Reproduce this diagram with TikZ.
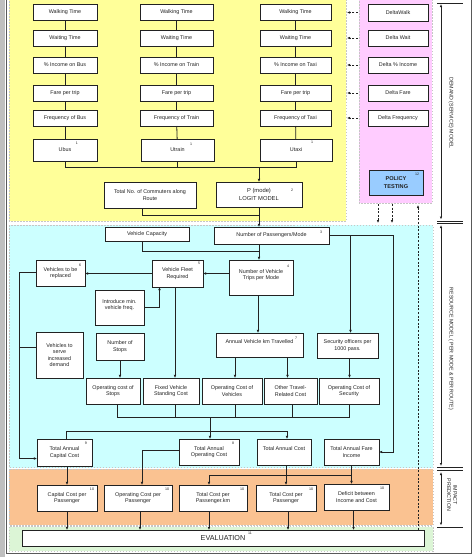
\documentclass[tikz,border=0pt]{standalone}
\usepackage{fontspec}
\setmainfont{Liberation Sans}
\usetikzlibrary{arrows.meta,calc}
\definecolor{yel}{HTML}{FFFF99}
\definecolor{pnk}{HTML}{FFCCFF}
\definecolor{cyn}{HTML}{CCFFFF}
\definecolor{orn}{HTML}{FAC291}
\definecolor{grn}{HTML}{DCF5D6}
\definecolor{pol}{HTML}{99CCFF}
\definecolor{ink}{HTML}{222222}
\tikzset{
 box/.style={draw=ink, line width=0.85pt, fill=white, inner sep=0.5pt, outer sep=0pt,
   font=\fontsize{5.4}{6.4}\selectfont, align=center, text=ink},
 conn/.style={draw=ink, line width=0.8pt},
 arr/.style={conn, -{Latex[length=3.2pt,width=2.8pt]}},
 darr/.style={draw=ink, line width=0.9pt, dash pattern=on 2pt off 1.6pt, -{Latex[length=3pt,width=2.6pt]}},
 dimarr/.style={draw=ink, line width=0.7pt, {Latex[length=3pt,width=2.4pt]}-{Latex[length=3pt,width=2.4pt]}},
 region/.style={draw=gray!45, line width=0.6pt, dash pattern=on 1.5pt off 1.5pt},
 supnum/.style={font=\fontsize{3.6}{4}\selectfont, inner sep=0pt, text=ink},
 sidelab/.style={rotate=-90, font=\fontsize{5.3}{6.3}\selectfont, align=center, inner sep=0pt, text=ink},
}
\newcommand\bx[7][]{\node[box,#1,minimum width={(#5-#3)*1pt},minimum height={(#6-#4)*1pt}] (#2) at ({(#3+#5)/2},{(#4+#6)/2}) {#7};}
\begin{document}
\begin{tikzpicture}[x=1pt,y=-1pt]
\useasboundingbox (0,0) rectangle (474,557);
% frame
\fill[gray!50] (0,-2) rectangle (4.5,557);
\draw[black!65, line width=0.8pt] (6,-2) -- (6,553) -- (471,553) -- (471,-2);
% regions
\fill[yel] (9,-2) rectangle (346,221); \draw[region] (9,-2) rectangle (346,221);
\fill[pnk] (359,-2) rectangle (432,203); \draw[region] (359,-2) rectangle (432,203);
\fill[cyn] (9,225) rectangle (433,467.5); \draw[region] (9,225) rectangle (433,467.5);
\fill[orn] (9,469) rectangle (433,525); \draw[region] (9,469) rectangle (433,525);
\fill[grn] (9,526.5) rectangle (433,551); \draw[region] (9,526.5) rectangle (433,551);
% demand model columns
\bx{b1}{33}{4}{97}{20}{Walking Time}
\bx{b2}{33}{30}{97}{46}{Waiting Time}
\bx{b3}{33}{57}{97}{73}{\% Income on Bus}
\bx{b4}{33}{85}{97}{101}{Fare per trip}
\bx{b5}{33}{110}{97}{126}{Frequency of Bus}
\bx{b6}{33}{139}{97}{161}{Ubus}
\bx{t1}{140}{4}{213}{20}{Walking Time}
\bx{t2}{140}{30}{213}{46}{Waiting Time}
\bx{t3}{140}{57}{213}{73}{\% Income on Train}
\bx{t4}{140}{85}{213}{101}{Fare per trip}
\bx{t5}{140}{110}{213}{126}{Frequency of Train}
\bx{t6}{141}{139}{214}{161}{Utrain}
\bx{x1}{260}{4}{331}{20}{Walking Time}
\bx{x2}{260}{30}{331}{46}{Waiting Time}
\bx{x3}{260}{57}{331}{73}{\% Income on Taxi}
\bx{x4}{260}{85}{331}{101}{Fare per trip}
\bx{x5}{260}{110}{331}{126}{Frequency of Taxi}
\bx{x6}{260}{139}{332}{161}{Utaxi}
% policy column
\bx{d1}{368}{4}{428}{21}{DeltaWalk}
\bx{d2}{368}{30}{428}{46}{Delta Wait}
\bx{d3}{368}{57}{428}{73}{Delta \% Income}
\bx{d4}{368}{85}{428}{101}{Delta Fare}
\bx{d5}{368}{110}{428}{126}{Delta Frequency}
\bx[fill=pol,font=\bfseries\fontsize{5.6}{7.4}\selectfont]{policy}{369}{170}{423}{195}{POLICY\\TESTING}
% logit
\bx{comm}{104}{182}{196}{208}{Total No. of Commuters along\\Route}
\bx[font=\fontsize{5.8}{7.2}\selectfont]{pmode}{216}{182}{302}{207}{P (mode)\\LOGIT MODEL}
% resource model
\bx{vcap}{105}{227}{189}{241}{Vehicle Capacity}
\bx{npass}{214}{227}{329}{244}{Number of Passengers/Mode}
\bx{vrep}{36}{260}{85}{286}{Vehicles to be\\replaced}
\bx{fleet}{152}{260}{203}{287}{Vehicle Fleet\\Required}
\bx{trips}{229}{260}{293}{295}{Number of Vehicle\\Trips per Mode\\\mbox{}}
\bx{minfreq}{95}{290}{144}{325}{Introduce min.\\vehicle freq.\\\mbox{}}
\bx{vserve}{36}{332}{83}{378}{Vehicles to\\serve\\increased\\demand}
\bx{nstops}{96}{333}{144}{360}{Number of\\Stops}
\bx{annkm}{216}{333}{303}{357}{Annual Vehicle km Travelled\\\mbox{}}
\bx{secoff}{317}{333}{378}{358}{Security officers per\\1000 pass.}
\bx{opstops}{86}{378}{140}{404}{Operating cost of\\Stops}
\bx{fixed}{143}{378}{199}{404}{Fixed Vehicle\\Standing Cost}
\bx{opveh}{202}{378}{262}{404}{Operating Cost of\\Vehicles}
\bx{other}{264}{378}{317}{404}{Other Travel-\\Related Cost}
\bx{opsec}{319}{378}{379}{404}{Operating Cost of\\Security}
\bx{capcost}{37}{439}{92}{466}{Total Annual\\Capital Cost}
\bx{opcost}{179}{439}{239}{465}{Total Annual\\Operating Cost}
\bx{totcost}{257}{439}{311}{465}{Total Annual Cost\\\mbox{}}
\bx{fare}{324}{439}{379}{465}{Total Annual Fare\\Income}
% impact
\bx{cpp}{37}{485}{97}{511}{Capital Cost per\\Passenger}
\bx{opp}{104}{485}{172}{511}{Operating Cost per\\Passenger}
\bx{tcpkm}{179}{485}{247}{511}{Total Cost per\\Passenger.km}
\bx{tcp}{256}{485}{316}{511}{Total Cost per\\Passenger}
\bx{deficit}{324}{484}{389}{510}{Deficit between\\Income and Cost}
\bx[font=\fontsize{7.2}{8}\selectfont]{eval}{22}{530}{424}{546}{EVALUATION}
% superscripts
\node[supnum] at (77,143) {1};
\node[supnum] at (191,144) {1};
\node[supnum] at (312,142) {1};
\node[supnum] at (292,190) {2};
\node[supnum] at (321,232) {3};
\node[supnum] at (288,266) {4};
\node[supnum] at (199,263) {5};
\node[supnum] at (80,265) {6};
\node[supnum] at (296,338) {7};
\node[supnum] at (233,443) {8};
\node[supnum] at (86,443) {9};
\node[supnum] at (92,489) {10};
\node[supnum] at (167,489) {10};
\node[supnum] at (242,489) {10};
\node[supnum] at (311,489) {10};
\node[supnum] at (382,488) {10};
\node[supnum] at (250,533) {11};
\node[supnum] at (417,174) {12};
% column connectors
\draw[conn] (b1)--(b2)--(b3)--(b4)--(b5)--(b6);
\draw[conn] (t1)--(t2)--(t3)--(t4)--(t5)--(t6);
\draw[conn] (x1)--(x2)--(x3)--(x4)--(x5)--(x6);
\coordinate (jU) at (259,167);
\draw[conn] (b6.south) -- (b6.south |- jU) -- (x6.south |- jU) -- (x6.south);
\draw[conn] (t6.south) -- (t6.south |- jU);
\draw[arr] (jU) -- (jU |- pmode.north);
\coordinate (jP) at (259,215);
\draw[conn] ([xshift=-8pt]comm.south) |- (jP);
\draw[arr] (pmode.south) -- (pmode.south |- npass.north);
\coordinate (jC) at (259,251);
\draw[conn] ([xshift=-5pt]vcap.south) |- (jC);
\draw[arr] (npass.south -| jC) -- (jC |- trips.north);
% resource connectors
\draw[arr] (trips.west |- fleet.east) -- (fleet.east);
\draw[arr] (fleet.west) -- (fleet.west -| vrep.east);
\draw[arr] (minfreq.east) -| ([xshift=-18pt]fleet.south);
\draw[arr] ([xshift=-2.5pt]fleet.south) -- ([xshift=-2.5pt]fleet.south |- fixed.north);
\draw[arr] ([xshift=-3pt]trips.south) -- ([xshift=-3pt]trips.south |- annkm.north);
\draw[arr] ([xshift=3pt]opveh.north |- annkm.south) -- ([xshift=3pt]opveh.north);
\draw[arr] ([xshift=-3pt]other.north |- annkm.south) -- ([xshift=-3pt]other.north);
\draw[arr] ([xshift=2pt]secoff.south) -- ([xshift=2pt]secoff.south |- opsec.north);
\draw[arr] (nstops.south) -- (nstops.south |- opstops.north);
\draw[arr] (npass.east) -| ([xshift=14pt]fare.east) -- (fare.east);
\draw[arr] ([xshift=3pt]secoff.north |- npass.east) -- ([xshift=3pt]secoff.north);
\coordinate (jO) at (210,417);
\draw[conn] ([xshift=4pt]opstops.south) -- ([xshift=4pt]opstops.south |- jO) -- (opsec.south |- jO) -- (opsec.south);
\draw[conn] ([xshift=4pt]fixed.south) -- ([xshift=4pt]fixed.south |- jO);
\draw[conn] ([xshift=3pt]opveh.south) -- ([xshift=3pt]opveh.south |- jO);
\draw[conn] ([xshift=2pt]other.south) -- ([xshift=2pt]other.south |- jO);
\draw[arr] (jO) -- (jO |- opcost.north);
\draw[arr] ([yshift=1pt]vrep.west) -- ++(-17,0) |- ([yshift=-6pt]capcost.west);
\draw[conn] ([yshift=8pt]vserve.west) -- ++(-17,0);
\draw[arr] ([xshift=1.5pt]capcost.north) -- ++(0,-8) -| ([xshift=3pt]totcost.north);
% impact connectors
\draw[arr] ([yshift=2pt]opcost.west) -| ([xshift=4pt]opp.north);
\draw[arr] (cpp.north |- capcost.south) -- (cpp.north);
\draw[arr] (tcp.north |- totcost.south) -- (tcp.north);
\draw[arr] (fare.south) -- (fare.south |- deficit.north);
\draw[arr] ($(fare.south)+(0,10)$) -| ([xshift=-4pt]tcpkm.north);
\foreach \n/\s in {cpp/0,opp/2,tcpkm/-4,tcp/2,deficit/-3}
  \draw[arr] ([xshift=\s pt]\n.south) -- ([xshift=\s pt]\n.south |- eval.north);
% policy dashed arrows
\foreach \r in {1,...,5}
  \draw[darr] ([xshift=-10pt]d\r.west) -- ([xshift=-21pt]d\r.west);
\draw[darr] ($(policy.south)+(-18,9)$) -- ($(policy.south)+(-18,28)$);
\draw[darr] ($(policy.south)+(-4,9)$) -- ($(policy.south)+(-4,28)$);
\draw[darr] ([xshift=-6pt]eval.north east) -- ++(0,-325);
% side panel
\draw[ink, line width=0.7pt] (437,3) -- (463,3);
\draw[ink, line width=0.7pt] (437,221) -- (463,221);
\draw[ink, line width=0.7pt] (437,223.5) -- (463,223.5);
\draw[ink, line width=0.7pt] (437,467.5) -- (463,467.5);
\draw[ink, line width=0.7pt] (437,470.5) -- (463,470.5);
\draw[ink, line width=0.7pt] (437,527) -- (463,527);
\draw[dimarr] (441,4) -- (441,219.5);
\draw[dimarr] (441,225) -- (441,466);
\draw[dimarr] (441,472) -- (441,525.5);
\node[sidelab] at (451,113) {DEMAND (SERVICE) MODEL};
\node[sidelab] at (451,349) {RESOURCE MODEL ( PER MODE \& PER ROUTE)};
\node[sidelab] at (452,495) {IMPACT\\PREDICTION};
\end{tikzpicture}
\end{document}
